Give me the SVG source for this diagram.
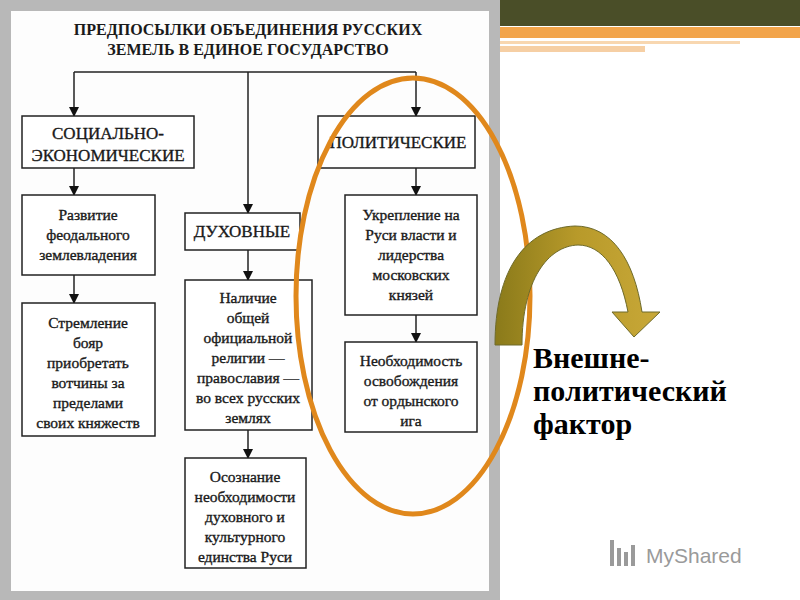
<svg xmlns="http://www.w3.org/2000/svg" width="800" height="600" viewBox="0 0 800 600">
<defs>
<marker id="ah" markerWidth="10" markerHeight="10" refX="9" refY="5" orient="auto" markerUnits="userSpaceOnUse"><path d="M0,0 L10,5 L0,10 z" fill="#111"/></marker>
<linearGradient id="gold" x1="0" y1="0" x2="1" y2="0"><stop offset="0" stop-color="#8a7a1a"/><stop offset="0.5" stop-color="#b89a2a"/><stop offset="1" stop-color="#c8a838"/></linearGradient>
<style>
.b{fill:#fff;stroke:#222;stroke-width:1.5}
.t{font-family:"Liberation Serif",serif;font-size:15.5px;fill:#1a1a1a;text-anchor:middle;stroke:#1a1a1a;stroke-width:0.35}
.k{font-size:17px}
.h{font-family:"Liberation Serif",serif;font-size:16px;font-weight:bold;fill:#1a1a1a;text-anchor:middle}
.l{stroke:#222;stroke-width:1.5;fill:none}
</style>
</defs>
<rect width="800" height="600" fill="#fff"/>
<rect x="0" y="0" width="500" height="600" fill="#b8b8b8"/>
<rect x="11" y="11" width="478" height="580" fill="#fdfdfd"/>
<rect x="500" y="0" width="300" height="26" fill="#4a4e28"/>
<rect x="500" y="27" width="300" height="11" fill="#f2a44a"/>
<rect x="500" y="41" width="240" height="3" fill="#f8d7b0"/>
<rect x="500" y="46" width="145" height="6" fill="#f6cfa4"/>
<text class="h" x="248" y="35">ПРЕДПОСЫЛКИ ОБЪЕДИНЕНИЯ РУССКИХ</text>
<text class="h" x="248" y="55">ЗЕМЕЛЬ В ЕДИНОЕ ГОСУДАРСТВО</text>
<g id="connectors">
<path class="l" d="M74,72 H416"/>
<path class="l" d="M74,72 V116" marker-end="url(#ah)"/>
<path class="l" d="M416,72 V116" marker-end="url(#ah)"/>
<path class="l" d="M248,72 V213" marker-end="url(#ah)"/>
<path class="l" d="M74,168 V195" marker-end="url(#ah)"/>
<path class="l" d="M74,275 V303" marker-end="url(#ah)"/>
<path class="l" d="M416,168 V195" marker-end="url(#ah)"/>
<path class="l" d="M416,315 V342" marker-end="url(#ah)"/>
<path class="l" d="M248,250 V280" marker-end="url(#ah)"/>
<path class="l" d="M248,430 V458" marker-end="url(#ah)"/>
</g>
<g id="social"><rect class="b" x="22" y="116" width="172" height="52"/><text class="t k" x="108" y="139">СОЦИАЛЬНО-</text><text class="t k" x="108" y="161">ЭКОНОМИЧЕСКИЕ</text></g>
<g id="political"><rect class="b" x="318" y="116" width="157" height="52"/><text class="t k" x="398" y="148">ПОЛИТИЧЕСКИЕ</text></g>
<g id="razvitie"><rect class="b" x="22" y="195" width="133" height="80"/><text class="t" x="88" y="220">Развитие</text><text class="t" x="88" y="240">феодального</text><text class="t" x="88" y="260">землевладения</text></g>
<g id="stremlenie"><rect class="b" x="22" y="303" width="133" height="133"/><text class="t" x="88" y="328">Стремление</text><text class="t" x="88" y="348">бояр</text><text class="t" x="88" y="368">приобретать</text><text class="t" x="88" y="388">вотчины за</text><text class="t" x="88" y="408">пределами</text><text class="t" x="88" y="428">своих княжеств</text></g>
<g id="duh"><rect class="b" x="185" y="213" width="115" height="37"/><text class="t k" x="242" y="237">ДУХОВНЫЕ</text></g>
<g id="nalichie"><rect class="b" x="185" y="280" width="127" height="150"/><text class="t" x="248" y="303">Наличие</text><text class="t" x="248" y="323">общей</text><text class="t" x="248" y="343">официальной</text><text class="t" x="248" y="363">религии —</text><text class="t" x="248" y="383">православия —</text><text class="t" x="248" y="403">во всех русских</text><text class="t" x="248" y="423">землях</text></g>
<g id="osoznanie"><rect class="b" x="185" y="458" width="121" height="110"/><text class="t" x="245" y="482">Осознание</text><text class="t" x="245" y="502">необходимости</text><text class="t" x="245" y="522">духовного и</text><text class="t" x="245" y="542">культурного</text><text class="t" x="245" y="562">единства Руси</text></g>
<g id="ukreplenie"><rect class="b" x="345" y="195" width="132" height="120"/><text class="t" x="411" y="220">Укрепление на</text><text class="t" x="411" y="240">Руси власти и</text><text class="t" x="411" y="260">лидерства</text><text class="t" x="411" y="280">московских</text><text class="t" x="411" y="300">князей</text></g>
<g id="neobhodimost"><rect class="b" x="345" y="342" width="132" height="90"/><text class="t" x="411" y="366">Необходимость</text><text class="t" x="411" y="386">освобождения</text><text class="t" x="411" y="406">от ордынского</text><text class="t" x="411" y="426">ига</text></g>
<ellipse cx="413" cy="296" rx="117" ry="218" fill="none" stroke="#e0881c" stroke-width="5"/>
<g id="arrow"><path d="M495,345 C495,270 525,228 575,226 C612,226 634,260 642,312 L660,312 L634,337 L612,312 L628,312 C620,270 602,245 578,245 C548,246 522,280 522,345 Z" fill="url(#gold)" stroke="#6e6a2a" stroke-width="1"/></g>
<g font-family="Liberation Serif,serif" font-size="30" font-weight="bold" fill="#000">
<text x="533" y="368">Внешне-</text><text x="533" y="401">политический</text><text x="533" y="434">фактор</text></g>
<g id="logo" fill="#9a9a9a"><rect x="610" y="540" width="4" height="26"/><rect x="617" y="548" width="4" height="18"/><rect x="624" y="552" width="4" height="14"/><rect x="631" y="545" width="4" height="21"/><text x="646" y="563" font-family="Liberation Sans,sans-serif" font-size="21">MyShared</text></g>
</svg>
